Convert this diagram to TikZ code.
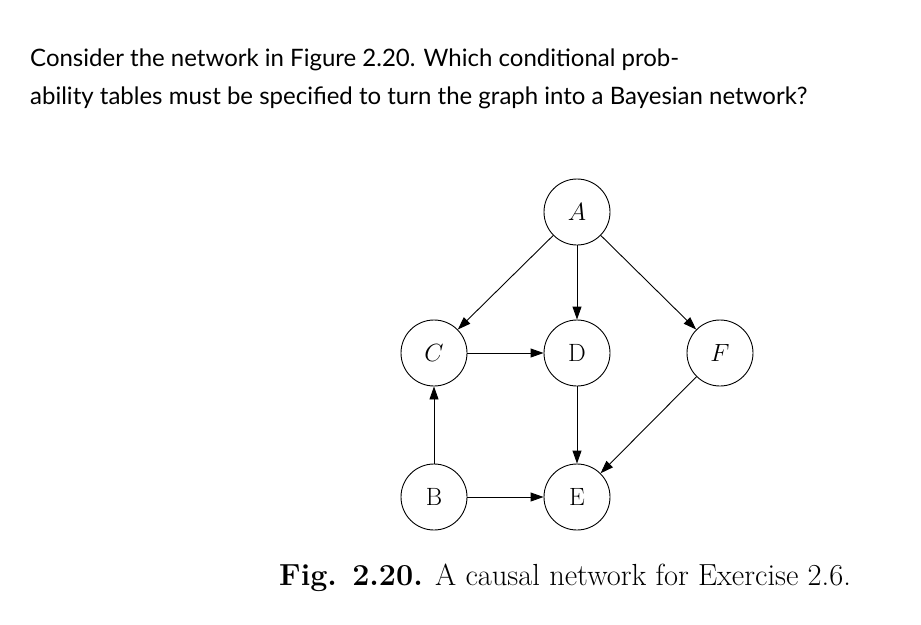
\documentclass[tikz,border=0pt]{standalone}
\usepackage{fontspec}
\newfontfamily\sansf{Lato}
\usetikzlibrary{arrows.meta}
\begin{document}
\begin{tikzpicture}[x=1pt,y=-1pt,
  nd/.style={circle,draw,line width=0.9pt,minimum size=66pt,inner sep=0pt,font=\fontsize{25}{25}\selectfont},
  ar/.style={-{Triangle[length=13pt,width=9pt]},line width=0.9pt}]
\useasboundingbox (0,0) rectangle (921,624);
\node[anchor=west,inner sep=0pt,font=\sansf\fontsize{24}{24}\selectfont] (t1) at (30,60) {Consider the network in Figure 2.20. Which conditional prob-};
\node[anchor=west,inner sep=0pt,font=\sansf\fontsize{24}{24}\selectfont] (t2) at (30,98) {ability tables must be specified to turn the graph into a Bayesian network?};
\node[nd] (A) at (577,212) {$A$};
\node[nd] (C) at (434,353) {$C$};
\node[nd] (D) at (577,353) {D};
\node[nd] (F) at (720,353) {$F$};
\node[nd] (B) at (434,497) {B};
\node[nd] (E) at (577,497) {E};
\draw[ar] (A) -- (C);
\draw[ar] (A) -- (D);
\draw[ar] (A) -- (F);
\draw[ar] (C) -- (D);
\draw[ar] (B) -- (C);
\draw[ar] (D) -- (E);
\draw[ar] (F) -- (E);
\draw[ar] (B) -- (E);
\node[anchor=west,inner sep=0pt,font=\fontsize{30.5}{30.5}\selectfont] (cap) at (279,578) {\textbf{Fig. 2.20.} A causal network for Exercise 2.6.};
\end{tikzpicture}
\end{document}
